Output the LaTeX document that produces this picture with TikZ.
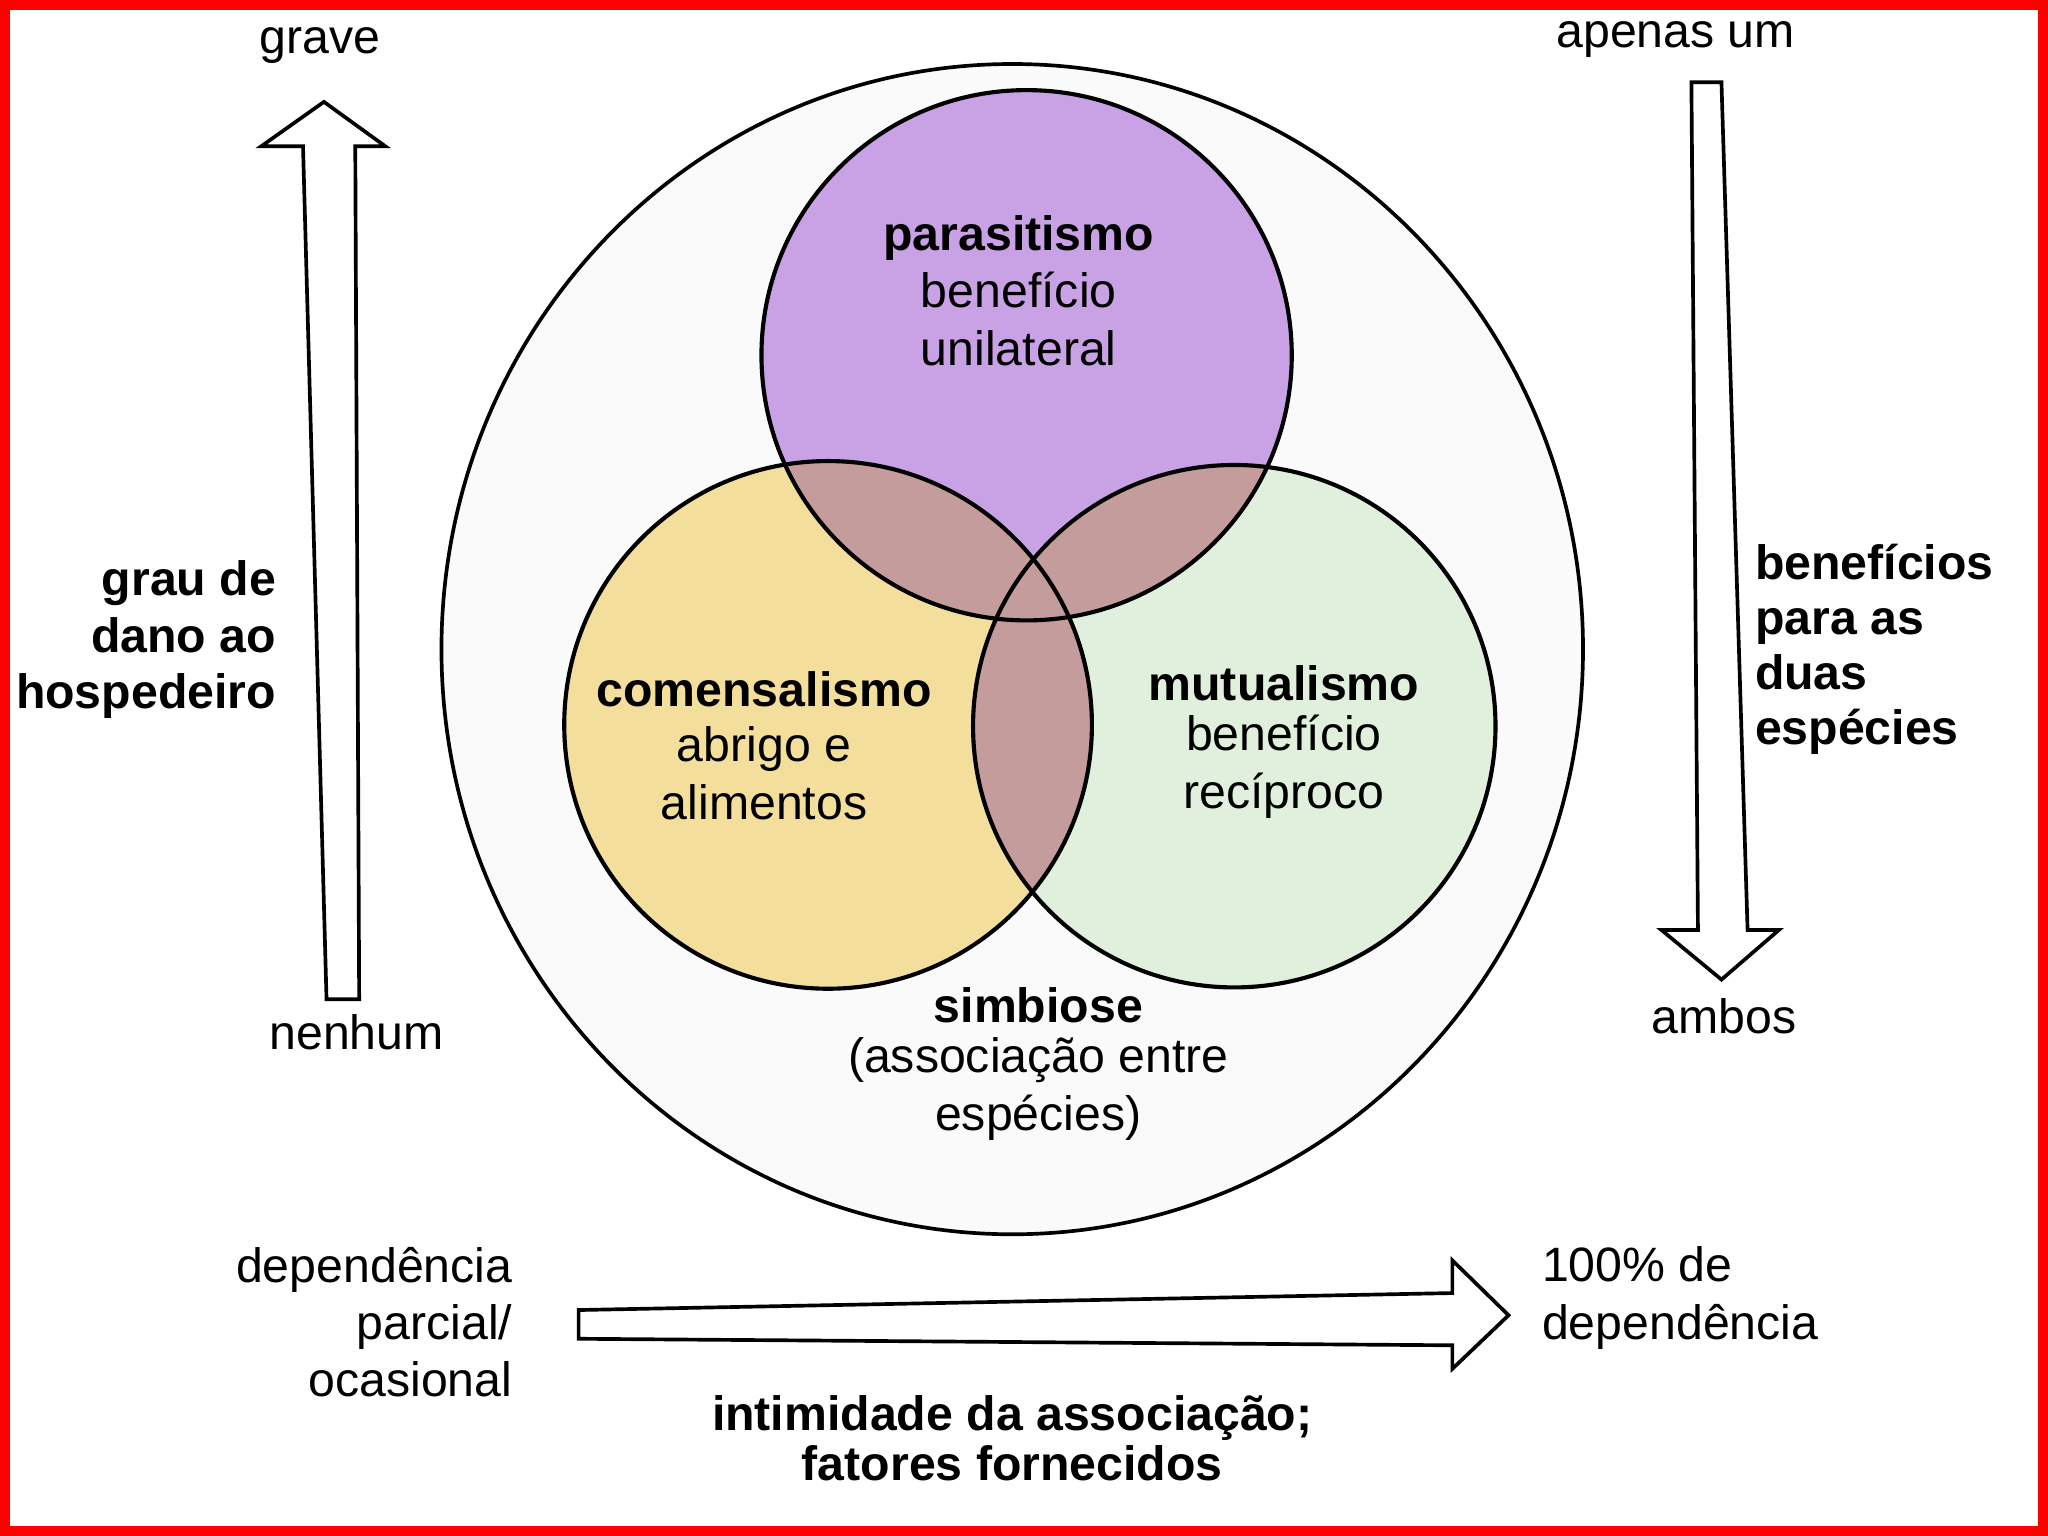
\documentclass[tikz,border=0pt]{standalone}
\usepackage{fontspec}
\setmainfont{Liberation Sans}
\definecolor{cpur}{HTML}{C9A2E6}
\definecolor{cyel}{HTML}{F4DE9C}
\definecolor{cgrn}{HTML}{E0F0DC}
\definecolor{clap}{HTML}{C49C9C}
\begin{document}
\begin{tikzpicture}[x=0.01cm,y=-0.01cm,
  lbl/.style={font=\fontsize{10.5}{12.6}\selectfont, inner sep=0pt},
  blbl/.style={font=\fontsize{10.5}{12.6}\selectfont\bfseries, inner sep=0pt},
  arr/.style={draw=black, line width=0.8pt, fill=white, line join=miter}]
\useasboundingbox (0,0) rectangle (1568,1176);
\fill[white] (0,0) rectangle (1568,1176);
\draw[red, line width=8*0.01cm] (4,4) rectangle (1564,1172);
% big circle
\draw[line width=0.8pt, fill=black!2] (775,497) ellipse [x radius=437, y radius=448];
\fill[cpur] (786,272) circle (203);
\fill[cyel] (634,555) circle (202);
\fill[cgrn] (945,556) circle (200);
\begin{scope}\clip (786,272) circle (203); \fill[clap] (634,555) circle (202); \fill[clap] (945,556) circle (200);\end{scope}
\begin{scope}\clip (634,555) circle (202); \fill[clap] (945,556) circle (200);\end{scope}
\draw[line width=0.9pt] (786,272) circle (203);
\draw[line width=0.9pt] (634,555) circle (202);
\draw[line width=0.9pt] (945,556) circle (200);
% arrows
\draw[arr] (250,765) -- (232,112) -- (200,112) -- (248,78) -- (295,112) -- (272,112) -- (275,765) -- cycle;
\draw[arr] (1295,63) -- (1318,63) -- (1338,712) -- (1362,712) -- (1318,750) -- (1272,712) -- (1300,712) -- cycle;
\draw[arr] (443,1003) -- (1112,990) -- (1112,965) -- (1155,1007) -- (1112,1048) -- (1112,1030) -- (443,1025) -- cycle;
% texts
\node[lbl] (grave) at (245,35) {grave};
\node[lbl] (nenhum) at (273,790) {nenhum};
\node[blbl, align=right, anchor=east, font=\fontsize{10.5}{12.3}\selectfont\bfseries] (dano) at (212,490) {grau de\\dano ao\\hospedeiro};
\node[lbl] (apenas) at (1283,30) {apenas um};
\node[lbl] (ambos) at (1320,778) {ambos};
\node[blbl, align=left, anchor=west, font=\fontsize{10.5}{12}\selectfont\bfseries] (benef) at (1343,497) {benefícios\\para as\\duas\\espécies};
\node[blbl] (par) at (780,182) {parasitismo};
\node[lbl, align=center] (pard) at (780,244) {benefício\\unilateral};
\node[blbl] (com) at (585,528) {comensalismo};
\node[lbl, align=center] (comd) at (585,592) {abrigo e\\alimentos};
\node[blbl] (mut) at (983,523) {mutualismo};
\node[lbl, align=center] (mutd) at (983,587) {benefício\\recíproco};
\node[blbl] (simb) at (795,770) {simbiose};
\node[lbl, align=center] (simbd) at (795,834) {(associação entre\\espécies)};
\node[lbl, align=right, anchor=east, font=\fontsize{10.5}{12.4}\selectfont] (dep) at (393,1012) {dependência\\parcial/\\ocasional};
\node[lbl, align=left, anchor=west] (cem) at (1180,994) {100\% de\\dependência};
\node[blbl, align=center, font=\fontsize{10.5}{10.8}\selectfont\bfseries] (intim) at (775,1101) {intimidade da associação;\\fatores fornecidos};
\end{tikzpicture}
\end{document}
